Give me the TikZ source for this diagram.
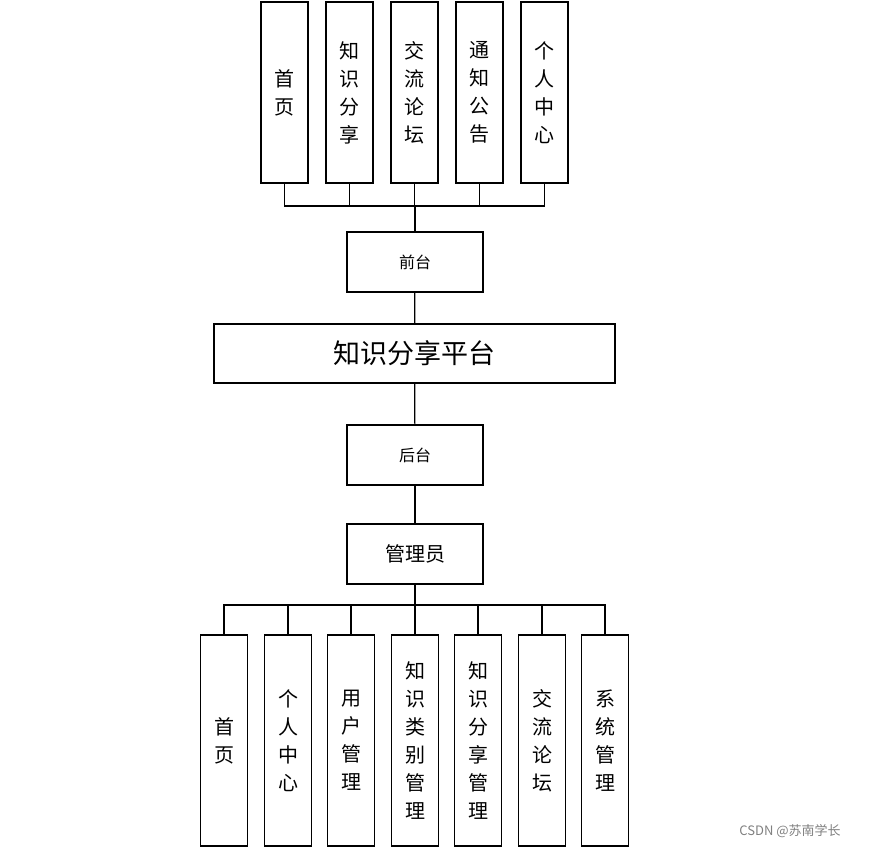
\documentclass[tikz,border=0pt]{standalone}
\usepackage{fontspec}
\newfontfamily\cjk{Noto Sans CJK SC}
\begin{document}
\begin{tikzpicture}[x=1pt,y=-1pt,
  box/.style={draw,line width=1.2pt,inner sep=0pt,align=center,font=\cjk\fontsize{20}{28}\selectfont},
  vbox/.style={box,minimum width=47pt,minimum height=#1},
  wire/.style={line width=1.2pt}]
\useasboundingbox (0,0) rectangle (872,850);
% top
\foreach \n/\x/\t in {t1/284.5/首\\页, t2/349.5/知\\识\\分\\享, t3/414.5/交\\流\\论\\坛, t4/479.5/通\\知\\公\\告, t5/544.5/个\\人\\中\\心}
  \node[vbox=181pt] (\n) at (\x,92.5) {\t};
\node[box,minimum width=136pt,minimum height=60pt,font=\cjk\fontsize{16}{20}\selectfont] (front) at (415,262) {前台};
\node[box,minimum width=401pt,minimum height=59pt,font=\cjk\fontsize{27}{30}\selectfont] (plat) at (414.5,353.5) {知识分享平台};
\node[box,minimum width=136pt,minimum height=60pt,font=\cjk\fontsize{16}{20}\selectfont] (back) at (415,455) {后台};
\node[box,minimum width=136pt,minimum height=60pt] (admin) at (415,554) {管理员};
\foreach \n/\x/\t in {b1/224/首\\页, b2/288/个\\人\\中\\心, b3/351/用\\户\\管\\理, b4/415/知\\识\\类\\别\\管\\理, b5/478/知\\识\\分\\享\\管\\理, b6/542/交\\流\\论\\坛, b7/605/系\\统\\管\\理}
  \node[vbox=211pt] (\n) at (\x,740.5) {\t};
\coordinate (tb) at (415,206);
\coordinate (bb) at (415,605);
\draw[wire] (t1.south) |- (t5.south |- tb) -- (t5.south);
\foreach \n in {t2,t3,t4} \draw[wire] (\n.south) -- (\n.south |- tb);
\draw[wire] (tb) -- (front.north);
\draw[wire] (front) -- (plat);
\draw[wire] (plat) -- (back);
\draw[wire] (back) -- (admin);
\draw[wire] (admin.south) -- (bb);
\draw[wire] (b1.north) |- (b7.north |- bb) -- (b7.north);
\foreach \n in {b2,b3,b4,b5,b6} \draw[wire] (\n.north) -- (\n.north |- bb);
\node[font=\cjk\fontsize{13}{15}\selectfont,text=gray] (wm) at (790,831) {CSDN @苏南学长};
\end{tikzpicture}
\end{document}
